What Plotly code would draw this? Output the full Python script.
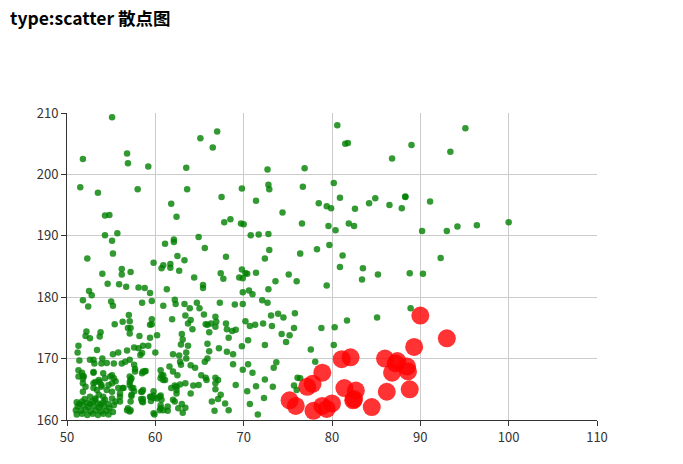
import plotly.graph_objects as go

# (身高x, 体重y) 绿色小点
green_pts = [
    (55.1, 209.3), (51.8, 202.5), (56.8, 203.4), (56.9, 201.8), (59.2, 201.3), (63.5, 201.1), (65.1, 205.9),
    (67.0, 207.0), (66.5, 204.4), (51.5, 197.9), (53.5, 197.0), (58.0, 197.6), (63.6, 197.6), (69.8, 197.7),
    (67.5, 196.3), (71.4, 195.7), (61.8, 195.2), (54.3, 193.3), (54.8, 193.4), (62.4, 193.1), (67.8, 192.2),
    (68.5, 192.7), (69.7, 192.0), (70.0, 191.9), (54.3, 190.1), (55.7, 190.4), (55.1, 189.2), (70.8, 190.1),
    (71.7, 190.2), (55.2, 187.1), (52.3, 186.3), (62.1, 189.4), (62.1, 189.0), (61.1, 188.7), (64.9, 189.8),
    (65.6, 188.0), (62.5, 186.7), (63.3, 186.0), (68.0, 186.6), (59.8, 185.6), (60.7, 184.7), (60.9, 185.2),
    (61.7, 185.4), (61.7, 184.8), (62.7, 184.3), (56.2, 184.6), (56.2, 183.7), (57.2, 184.1), (54.0, 183.8),
    (54.6, 182.2), (55.9, 182.1), (56.7, 181.7), (58.1, 181.6), (58.8, 181.5), (59.4, 180.7), (52.5, 181.0),
    (52.8, 180.3), (61.3, 181.3), (64.4, 183.2), (65.4, 182.0), (65.4, 181.5), (67.4, 183.9), (67.7, 183.0),
    (69.5, 183.2), (69.9, 183.1), (69.8, 184.5), (70.2, 183.9), (70.4, 183.8), (71.4, 184.0), (69.9, 180.8),
    (70.6, 181.1), (71.0, 180.5), (51.8, 179.5), (55.0, 179.3), (62.2, 179.6), (62.3, 178.9),
    (52.4, 178.5), (55.2, 178.6), (58.5, 179.1), (59.6, 179.4), (60.9, 178.6), (55.4, 175.6), (56.3, 176.0),
    (57.1, 176.1), (56.9, 175.0), (57.2, 175.0), (57.0, 177.1), (59.6, 176.4), (59.6, 175.6), (59.4, 175.5),
    (61.9, 176.4), (52.2, 174.4), (52.1, 173.7), (52.6, 173.3), (53.8, 174.3), (53.7, 173.6), (57.1, 174.1),
    (58.2, 173.7), (59.4, 173.4), (60.2, 173.8), (51.3, 172.1), (51.2, 171.0), (53.4, 171.4), (57.6, 171.8),
    (58.1, 171.7), (58.6, 172.1), (59.2, 172.1), (58.3, 170.6), (58.5, 170.9), (55.2, 170.7), (55.8, 171.0),
    (56.8, 171.3), (60.0, 171.0), (62.0, 170.7), (51.4, 169.7), (52.6, 169.8), (53.0, 169.8), (53.1, 169.2),
    (54.0, 170.0), (53.9, 169.2), (54.5, 169.3), (55.3, 169.2), (56.2, 169.2), (56.6, 169.5), (57.1, 169.8),
    (57.6, 169.0), (51.3, 168.1), (51.7, 167.7), (51.8, 167.2), (51.3, 167.1), (53.0, 167.7), (54.1, 167.6),
    (55.1, 167.3), (57.3, 166.8), (57.1, 166.2), (57.1, 165.7), (57.7, 167.9), (58.6, 167.9), (58.9, 168.0),
    (60.6, 168.1), (60.9, 167.3), (61.1, 166.5), (62.0, 167.9), (62.5, 167.3), (51.8, 166.0), (53.0, 166.0),
    (53.7, 166.2), (53.9, 165.4), (56.4, 165.2), (56.0, 164.3), (57.3, 165.2), (57.3, 164.1), (57.2, 163.0),
    (58.5, 164.6), (58.6, 163.4), (58.5, 163.0), (59.4, 163.8), (59.8, 164.0), (60.2, 163.5), (60.5, 163.8),
    (60.6, 162.4), (60.5, 161.6), (59.8, 161.1), (56.9, 161.9), (57.2, 161.6),
    (53.0, 167.8), (51.9, 167.1), (51.8, 166.7), (53.2, 166.2), (53.6, 166.5), (54.3, 166.8), (54.9, 167.1),
    (55.3, 166.8), (52.1, 165.4), (51.8, 164.6), (53.0, 165.2), (53.4, 164.9), (53.9, 165.7), (54.7, 165.7),
    (55.1, 166.0), (55.5, 166.3), (54.5, 164.9), (55.1, 164.6), (55.8, 165.2), (56.0, 163.8), (52.6, 163.8),
    (53.2, 163.5), (53.6, 164.1), (54.1, 163.8), (54.3, 163.3), (55.1, 163.5), (55.5, 163.0),
    (51.1, 162.9), (51.7, 163.0), (52.3, 162.8), (52.9, 163.0), (53.5, 162.7), (54.1, 162.9), (54.7, 162.6),
    (55.3, 162.4), (51.2, 162.2), (51.8, 162.4), (52.4, 162.1), (53.0, 162.3), (53.6, 162.0), (54.2, 162.2),
    (54.8, 161.9), (51.0, 161.6), (51.6, 161.5), (52.1, 161.7), (52.7, 161.4), (53.3, 161.6), (53.9, 161.4),
    (54.5, 161.5), (55.2, 161.3), (51.1, 160.9), (51.7, 161.0), (52.3, 160.8), (52.9, 161.0), (53.5, 160.8),
    (54.1, 161.0), (54.7, 160.9), (51.4, 162.6), (52.6, 162.6), (53.8, 162.5), (52.0, 163.4), (53.2, 163.3),
    (57.7, 168.3), (58.5, 167.6), (58.8, 167.9), (57.1, 167.1), (57.2, 166.5), (56.3, 165.2), (57.5, 165.2),
    (57.6, 164.7), (58.4, 164.6), (58.6, 164.9), (57.3, 163.9), (56.0, 163.0), (58.4, 163.4), (58.6, 162.9),
    (59.5, 163.8), (59.8, 163.6), (59.5, 163.1), (59.8, 164.7), (60.6, 164.0), (60.7, 163.3), (60.6, 166.8),
    (60.7, 167.3), (60.9, 166.5), (61.8, 165.2), (62.2, 165.6), (62.4, 164.9), (62.0, 163.3), (62.2, 163.0),
    (60.6, 161.9), (60.9, 161.6), (61.4, 161.5), (61.4, 162.2), (59.9, 160.9), (62.6, 161.9), (57.1, 161.4),
    (56.8, 161.6), (61.6, 168.7),
    (63.3, 178.9), (63.9, 178.2), (64.7, 179.1), (65.0, 178.2), (67.3, 179.1), (69.0, 178.8), (69.9, 178.9),
    (63.4, 177.0), (64.0, 176.3), (63.7, 175.7), (64.2, 174.8), (65.5, 177.2), (65.7, 175.6), (65.9, 175.5),
    (66.3, 175.7), (66.8, 176.8), (66.9, 176.0), (66.8, 175.2), (66.1, 174.3), (68.0, 175.7), (68.1, 174.8),
    (68.7, 174.5), (69.1, 174.7), (68.3, 173.4), (70.2, 176.1), (70.7, 175.3), (71.3, 175.5), (72.2, 175.7),
    (73.1, 177.0), (73.2, 175.3), (73.9, 177.3), (74.5, 176.7), (75.8, 177.4), (75.7, 175.0), (74.3, 174.0),
    (75.2, 173.8), (74.8, 172.7), (72.4, 172.2), (70.5, 173.0), (69.8, 172.0), (67.2, 171.7), (68.8, 170.7),
    (68.1, 171.1), (65.9, 172.4), (66.1, 171.2), (65.9, 170.0), (65.6, 169.5), (63.0, 174.0), (63.1, 173.1),
    (62.9, 172.3), (63.7, 172.1), (63.5, 171.0), (63.5, 170.0), (62.7, 170.5), (62.8, 169.5), (62.9, 169.0),
    (64.0, 168.9), (64.5, 168.5), (65.2, 167.3), (65.7, 166.9), (65.8, 166.5), (66.8, 166.9), (67.1, 166.5),
    (66.8, 166.0), (66.8, 165.0), (64.9, 165.7), (64.3, 165.6), (63.4, 166.0), (62.8, 165.8), (62.4, 165.4),
    (62.4, 164.3), (64.0, 164.3), (67.4, 164.1), (67.1, 163.4), (66.4, 163.0), (67.9, 162.7), (68.3, 161.6),
    (66.7, 161.5), (63.0, 162.6), (63.4, 162.0), (63.1, 161.2), (69.1, 165.7), (68.8, 169.1), (69.9, 168.2),
    (70.5, 169.1), (71.0, 167.7), (73.4, 168.5), (73.7, 169.4), (72.4, 166.6), (71.4, 165.5), (70.4, 164.7),
    (73.3, 165.4), (72.3, 163.6), (70.7, 162.6), (71.6, 160.9), (75.7, 165.6), (76.1, 166.9), (76.4, 166.8),
    (76.0, 164.9),
    (80.6, 208.0), (81.5, 205.0), (81.8, 205.1), (89.0, 204.8), (93.4, 203.7), (86.8, 202.6), (72.7, 200.8),
    (76.9, 201.0), (72.8, 198.3), (72.9, 197.6), (76.7, 198.0), (80.2, 198.6), (80.9, 196.2), (84.9, 196.1),
    (84.2, 195.3), (86.5, 195.0), (88.3, 196.3), (88.3, 196.4), (87.9, 194.5), (91.1, 195.6), (78.5, 195.3),
    (79.4, 194.8), (79.9, 194.5), (82.6, 194.4), (74.4, 193.8), (76.6, 192.0), (79.6, 191.6), (80.4, 190.9),
    (81.9, 192.0), (82.5, 191.6), (90.2, 190.8), (93.0, 190.8), (72.8, 190.3), (72.9, 187.7), (72.4, 186.3),
    (76.4, 187.1), (78.3, 187.8), (79.7, 188.5), (81.2, 186.8), (80.9, 184.9), (83.5, 184.7), (83.4, 182.9),
    (85.2, 183.7), (88.8, 183.9), (90.3, 183.8), (92.3, 186.4), (75.1, 183.7), (73.6, 182.6), (76.0, 182.6),
    (79.4, 181.9), (72.8, 181.3), (72.1, 179.5), (72.7, 179.1),
    (95.1, 207.5), (94.2, 191.5), (96.4, 191.7), (100.0, 192.2),
    (88.9, 178.2), (85.1, 176.7), (81.7, 176.2), (80.3, 175.1), (78.8, 175.0), (80.2, 172.2), (77.6, 171.5),
    (78.1, 169.5),
]

# 红色大点
red_pts = [
    (75.2, 163.2), (75.9, 162.3), (77.2, 165.4), (77.8, 165.9), (78.9, 167.7), (77.9, 161.5), (78.9, 162.3),
    (79.4, 161.8), (80.0, 162.7), (81.1, 169.9), (82.1, 170.2), (81.4, 165.2), (82.7, 164.8), (82.4, 163.2),
    (82.5, 163.4), (84.5, 162.1), (86.0, 170.0), (87.4, 169.6), (87.2, 169.2), (86.8, 167.7), (88.5, 168.7),
    (88.6, 167.9), (86.2, 164.6), (88.8, 165.0), (89.3, 171.9), (90.0, 177.0), (93.0, 173.3),
]

gx, gy = zip(*green_pts)
rx, ry = zip(*red_pts)

fig = go.Figure()
fig.add_trace(go.Scatter(x=gx, y=gy, mode='markers',
                         marker=dict(size=6.5, color='rgba(0,128,0,0.8)', line=dict(width=0))))
fig.add_trace(go.Scatter(x=rx, y=ry, mode='markers',
                         marker=dict(size=18, color='rgba(255,0,0,0.8)', line=dict(width=0))))

# 页面 body 自带 8px 边距, 所以图本身缩小 8px
axis_font = dict(family='Noto Sans CJK SC, sans-serif', size=13, color='#333')
fig.update_layout(
    width=675, height=456,
    margin=dict(l=59, r=86, t=105, b=44),
    paper_bgcolor='white', plot_bgcolor='white',
    showlegend=False,
    title=dict(text='<b>type:scatter 散点图</b>', x=0.003, xanchor='left', xref='container',
               y=0.99, yanchor='top', yref='container',
               font=dict(family='Noto Sans CJK SC, sans-serif', size=17.5, color='black')),
    xaxis=dict(range=[50, 110], dtick=10, tick0=50, showgrid=True, gridcolor='#ccc', gridwidth=1,
               showline=True, linecolor='#333', linewidth=1, ticks='outside', ticklen=5,
               tickcolor='#333', tickfont=axis_font, zeroline=False),
    yaxis=dict(range=[160, 210], dtick=10, tick0=160, showgrid=True, gridcolor='#ccc', gridwidth=1,
               showline=True, linecolor='#333', linewidth=1, ticks='outside', ticklen=5,
               tickcolor='#333', tickfont=axis_font, zeroline=False),
)
fig.write_html('out.html')
